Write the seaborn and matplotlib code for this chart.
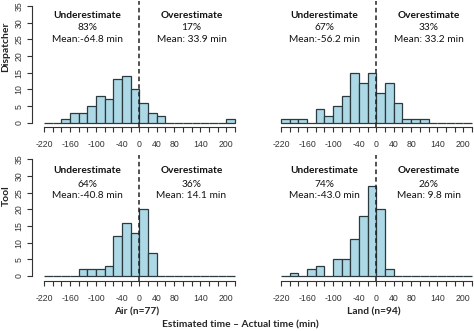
import numpy as np
import matplotlib
matplotlib.use("Agg")
import matplotlib.pyplot as plt
import seaborn as sns

sns.set_style("white")
plt.rcParams['font.family'] = ['Liberation Sans', 'DejaVu Sans']

# bins of 20 min from -220 to 220
bin_edges = list(range(-220, 221, 20))
bin_centers = [e + 10 for e in bin_edges[:-1]]

# counts per bin (-220..-200, ..., 200..220)
dispatcher_air = [0, 0, 1, 3, 3, 5, 8, 7, 13, 14, 10, 6, 3, 2, 0, 0, 0, 0, 0, 0, 0, 1]
dispatcher_land = [1, 1, 1, 0, 4, 2, 5, 8, 15, 12, 15, 9, 12, 6, 1, 1, 1, 0, 0, 0, 0, 0]
tool_air = [0, 0, 0, 0, 2, 2, 2, 3, 12, 16, 13, 20, 7, 0, 0, 0, 0, 0, 0, 0, 0, 0]
tool_land = [0, 1, 0, 2, 3, 0, 5, 5, 11, 18, 27, 20, 2, 0, 0, 0, 0, 0, 0, 0, 0, 0]

x_tick_labels = [-220, -160, -100, -40, 0, 40, 80, 140, 200]
y_ticks = [0, 5, 10, 15, 20, 25, 30, 35]

panels = [
    dict(counts=dispatcher_air, under="83%", under_mean="Mean:-64.8 min",
         over="17%", over_mean="Mean: 33.9 min", yaxis=True, title=None),
    dict(counts=dispatcher_land, under="67%", under_mean="Mean:-56.2 min",
         over="33%", over_mean="Mean: 33.2 min", yaxis=False, title=None),
    dict(counts=tool_air, under="64%", under_mean="Mean:-40.8 min",
         over="36%", over_mean="Mean: 14.1 min", yaxis=True, title="Air (n=77)"),
    dict(counts=tool_land, under="74%", under_mean="Mean:-43.0 min",
         over="26%", over_mean="Mean: 9.8 min", yaxis=False, title="Land (n=94)"),
]

W, H = 474, 331
fig = plt.figure(figsize=(W / 100, H / 100), dpi=100)

# axes boxes in pixels: left, top, width, height
ax_w, ax_h = 215.3, 126.0
boxes = [(31.8, 1.4), (268.8, 1.4), (31.8, 154.7), (268.8, 154.7)]

txt_font = ['Lato', 'DejaVu Sans']
fill = '#ADD8E6'
edge = '#2b3a3f'
axis_col = '#333333'

for p, (l, t) in zip(panels, boxes):
    ax = fig.add_axes([l / W, 1 - (t + ax_h) / H, ax_w / W, ax_h / H])
    sns.histplot(x=bin_centers, weights=p['counts'], bins=bin_edges, ax=ax,
                 color=fill, edgecolor=edge, linewidth=0.9, alpha=1, stat='count')
    ax.set_xlim(-248, 248)
    ax.set_ylim(-1.4, 36.4)
    ax.axvline(0, color='#222222', linestyle=(0, (3, 2)), linewidth=1.1, zorder=5)
    ax.set_xlabel('')
    ax.set_ylabel('')
    ax.set_xticks(bin_edges)
    ax.set_xticklabels([str(e) if e in x_tick_labels else '' for e in bin_edges])
    ax.tick_params(axis='x', direction='out', length=3.8, width=0.8, pad=5.5,
                   labelsize=6.3, colors=axis_col, bottom=True)
    ax.spines['top'].set_visible(False)
    ax.spines['right'].set_visible(False)
    ax.spines['bottom'].set_bounds(-220, 220)
    ax.spines['bottom'].set_color(axis_col)
    ax.spines['bottom'].set_linewidth(0.8)
    if p['yaxis']:
        ax.set_yticks(y_ticks)
        ax.set_yticklabels([str(v) for v in y_ticks])
        ax.tick_params(axis='y', direction='out', length=3.8, width=0.8, pad=2,
                       labelsize=6.3, colors=axis_col, left=True)
        for lab in ax.get_yticklabels():
            lab.set_rotation(90)
            lab.set_va('center')
        ax.spines['left'].set_bounds(0, 35)
        ax.spines['left'].set_color(axis_col)
        ax.spines['left'].set_linewidth(0.8)
    else:
        ax.set_yticks([])
        ax.spines['left'].set_visible(False)
    top = p['title'] is None
    ys = (32.3, 28.6, 25.0) if top else (31.6, 27.6, 24.3)
    for xc, head, pct, mean in ((-120, 'Underestimate', p['under'], p['under_mean']),
                                (120, 'Overestimate', p['over'], p['over_mean'])):
        ax.text(xc, ys[0], head, ha='center', va='center', fontsize=7.3,
                fontweight='bold', family=txt_font, color='#111111')
        ax.text(xc, ys[1], pct, ha='center', va='center', fontsize=7.3,
                family=txt_font, color='#111111')
        ax.text(xc, ys[2], mean, ha='center', va='center', fontsize=7.3,
                family=txt_font, color='#111111')
    if p['title']:
        fig.text((l + ax_w / 2 - 3) / W, 1 - 312 / H, p['title'], ha='center',
                 va='center', fontsize=7.3, fontweight='bold', family=txt_font)

fig.text(6 / W, 1 - 47 / H, 'Dispatcher', rotation=90, ha='center', va='center',
         fontsize=7.5, fontweight='bold', family=txt_font, color='#222222')
fig.text(6 / W, 1 - 196 / H, 'Tool', rotation=90, ha='center', va='center',
         fontsize=7.5, fontweight='bold', family=txt_font, color='#222222')
fig.text(240 / W, 1 - 324.5 / H, 'Estimated time \u2013 Actual time (min)', ha='center',
         va='center', fontsize=7.3, fontweight='bold', family=txt_font)

fig.savefig('out.png', dpi=100, facecolor='white')
